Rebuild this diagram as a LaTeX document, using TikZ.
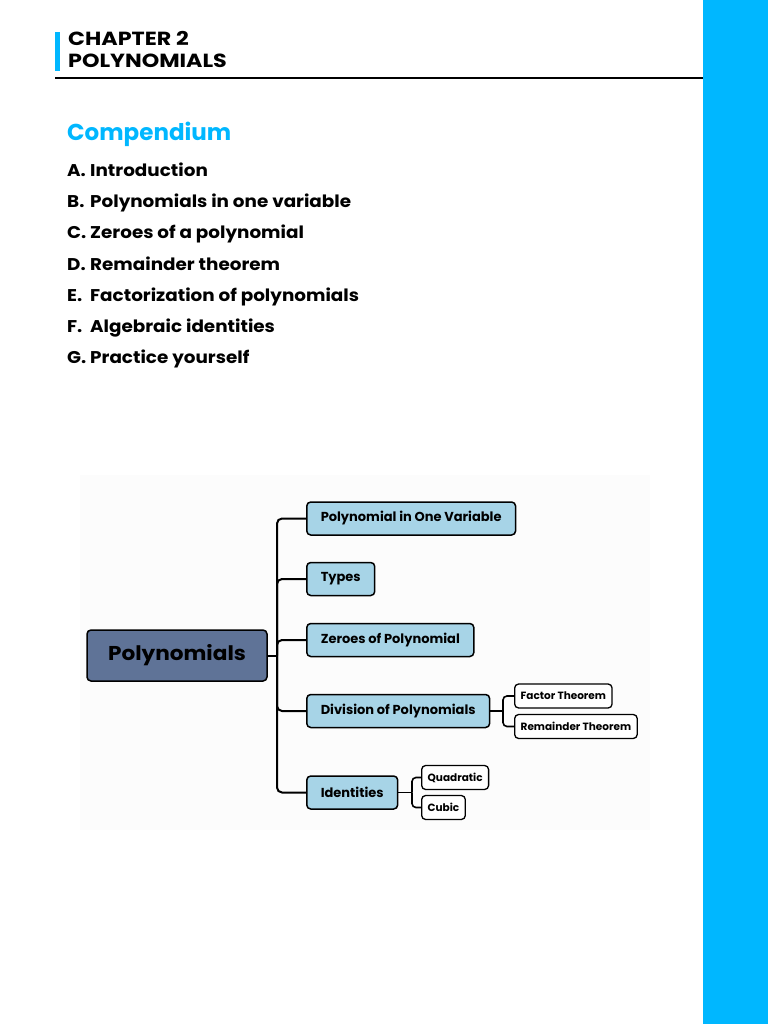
\documentclass[tikz,border=0pt]{standalone}
\usepackage{fontspec}
\setmainfont{Poppins}
\newfontfamily\widefont{Poppins}[FakeStretch=1.08]
\newfontfamily\widerfont{Poppins}[FakeStretch=1.17]
\usepackage{xcolor}
\definecolor{skyblue}{HTML}{00B7FF}
\definecolor{rootblue}{HTML}{5F7397}
\definecolor{leafblue}{HTML}{A7D4E7}
\tikzset{
  rootbox/.style={draw=black, line width=1.5pt, fill=rootblue, rounded corners=4pt,
    minimum width=180pt, minimum height=51pt, font=\widefont\fontsize{20}{24}\selectfont\bfseries},
  topicbox/.style={draw=black, line width=1.5pt, fill=leafblue, rounded corners=4pt,
    anchor=west, inner xsep=14pt, minimum height=33pt, font=\fontsize{13}{15}\selectfont\bfseries},
  subbox/.style={draw=black, line width=1.3pt, fill=white, rounded corners=4pt,
    anchor=west, inner xsep=6pt, minimum height=24pt, font=\fontsize{10.5}{12}\selectfont\bfseries},
  listitem/.style={anchor=base west, inner sep=0pt, font=\widefont\fontsize{17}{20}\selectfont\bfseries},
  link/.style={line width=2pt, rounded corners=5pt},
  sublink/.style={line width=1.6pt, rounded corners=4pt},
}
\begin{document}
\begin{tikzpicture}[x=1pt,y=-1pt]
            \useasboundingbox (0,0) rectangle (768,1024);
            \fill[white] (0,0) rectangle (768,1024);
            \fill[skyblue] (703,0) rectangle (768,1024);

            % header
            \fill[skyblue] (55,32) rectangle (60,71);
            \node[anchor=base west, inner sep=0pt, font=\widerfont\fontsize{19}{22}\selectfont\bfseries] (chap) at (68,46) {CHAPTER 2};
            \node[anchor=base west, inner sep=0pt, font=\widerfont\fontsize{19}{22}\selectfont\bfseries] (title) at (68,68) {POLYNOMIALS};
            \draw[line width=2pt] (55,78) -- (703,78);

            % compendium list
            \node[anchor=base west, inner sep=0pt, text=skyblue, font=\fontsize{23}{27}\selectfont\bfseries] (comp) at (67,141) {Compendium};
            \foreach \lab/\txt [count=\i from 0] in {A./Introduction, B./Polynomials in one variable,
                C./Zeroes of a polynomial, D./Remainder theorem, E./Factorization of polynomials,
                F./Algebraic identities, G./Practice yourself} {
                \node[listitem] (lab\i) at (67,{177+31*\i}) {\lab};
                \node[listitem] (item\i) at (90,{177+31*\i}) {\txt};
            }

            % mind map
            \fill[black!1] (80,475) rectangle (650,830);
            \node[rootbox] (root) at (177,655.5) {Polynomials};
            \node[topicbox] (pov) at (306,518.5) {Polynomial in One Variable};
            \node[topicbox] (types) at (306,579) {Types};
            \node[topicbox] (zero) at (306,640) {Zeroes of Polynomial};
            \node[topicbox] (div) at (306,711) {Division of Polynomials};
            \node[topicbox] (iden) at (306,792.5) {Identities};
            \node[subbox] (fact) at (514,696) {Factor Theorem};
            \node[subbox] (rem) at (514,726.5) {Remainder Theorem};
            \node[subbox] (quad) at (421,777.5) {Quadratic};
            \node[subbox] (cub) at (421,807.5) {Cubic};

            \coordinate (hub) at (277,655.5);
            \draw[link] (root.east) -- (hub);
            \foreach \c in {pov,types,zero,div,iden}
                \draw[link] (hub) |- (\c.west);
            \coordinate (divhub) at (503,711);
            \draw[sublink] (div.east) -- (divhub);
            \foreach \c in {fact,rem}
                \draw[sublink] (divhub) |- (\c.west);
            \coordinate (idhub) at (412,792.5);
            \draw[sublink] (iden.east) -- (idhub);
            \foreach \c in {quad,cub}
                \draw[sublink] (idhub) |- (\c.west);
\end{tikzpicture}
\end{document}
